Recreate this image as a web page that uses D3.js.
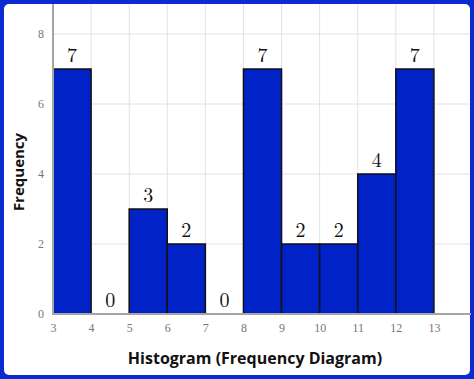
<!DOCTYPE html>
<html>
<head>
<meta charset="utf-8">
<script src="https://cdn.jsdelivr.net/npm/d3@7"></script>
<style>
  html, body { margin: 0; padding: 0; background: #fff; }
  svg { display: block; }
</style>
</head>
<body>
<div id="chart"></div>
<script>
// bins: [start, end) and the frequency of each
const binStarts = [3, 4, 5, 6, 7, 8, 9, 10, 11, 12];
const binEnds = [4, 5, 6, 7, 8, 9, 10, 11, 12, 13];
const frequencies = [7, 0, 3, 2, 0, 7, 2, 2, 4, 7];
const xTicks = [3, 4, 5, 6, 7, 8, 9, 10, 11, 12, 13];
const yTicks = [0, 2, 4, 6, 8];

const width = 474, height = 379;
const marginLeft = 53, marginBottom = 65;

const svg = d3.select("#chart").append("svg")
    .attr("width", width)
    .attr("height", height);

// blue frame
svg.append("rect")
    .attr("width", width).attr("height", height)
    .attr("fill", "#0a2bcf");
svg.append("rect")
    .attr("x", 4).attr("y", 4)
    .attr("width", width - 8).attr("height", height - 8)
    .attr("rx", 5)
    .attr("fill", "#fff");

const x = d3.scaleLinear().domain([3, 14]).range([marginLeft, 472]);
const y = d3.scaleLinear().domain([0, 9]).range([height - marginBottom, -1]);

const clip = svg.append("clipPath").attr("id", "inner")
    .append("rect")
    .attr("x", 4).attr("y", 4)
    .attr("width", width - 8).attr("height", height - 8);

const g = svg.append("g").attr("clip-path", "url(#inner)");

// grid
g.append("g")
    .selectAll("line")
    .data(d3.range(4, 14))
    .join("line")
    .attr("x1", d => x(d)).attr("x2", d => x(d))
    .attr("y1", y(9)).attr("y2", y(0))
    .attr("stroke", "#e2e2e2")
    .attr("stroke-width", 1);

g.append("g")
    .selectAll("line")
    .data(yTicks.filter(d => d > 0))
    .join("line")
    .attr("x1", x(3)).attr("x2", x(14))
    .attr("y1", d => y(d)).attr("y2", d => y(d))
    .attr("stroke", "#e2e2e2")
    .attr("stroke-width", 1);

// bars
g.append("g")
    .selectAll("rect")
    .data(frequencies.map((f, i) => ({f, a: binStarts[i], b: binEnds[i]})).filter(d => d.f > 0))
    .join("rect")
    .attr("x", d => x(d.a))
    .attr("y", d => y(d.f))
    .attr("width", d => x(d.b) - x(d.a))
    .attr("height", d => y(0) - y(d.f))
    .attr("fill", "#0022c6")
    .attr("stroke", "#111")
    .attr("stroke-width", 1.5);

// value labels
g.append("g")
    .selectAll("text")
    .data(frequencies.map((f, i) => ({f, a: binStarts[i], b: binEnds[i]})))
    .join("text")
    .attr("x", d => x((d.a + d.b) / 2))
    .attr("y", d => y(d.f) - 7)
    .attr("text-anchor", "middle")
    .attr("font-family", "'Latin Modern Roman', 'DejaVu Serif', serif")
    .attr("font-size", 20)
    .attr("fill", "#111")
    .text(d => d.f);

// axes
const xAxis = d3.axisBottom(x).tickValues(xTicks).tickSize(0).tickPadding(9);
const yAxis = d3.axisLeft(y).tickValues(yTicks).tickSize(0).tickPadding(9);

svg.append("g")
    .attr("transform", `translate(0,${y(0)})`)
    .call(xAxis)
    .call(a => a.select(".domain").remove())
    .call(a => a.selectAll("text")
        .attr("font-family", "'Liberation Serif', serif")
        .attr("font-size", 12)
        .attr("fill", "#777"));

svg.append("g")
    .attr("transform", `translate(${marginLeft},0)`)
    .call(yAxis)
    .call(a => a.select(".domain").remove())
    .call(a => a.selectAll("text")
        .attr("font-family", "'Liberation Serif', serif")
        .attr("font-size", 12)
        .attr("fill", "#777"));

svg.append("line")
    .attr("x1", x(3)).attr("x2", 471)
    .attr("y1", y(0)).attr("y2", y(0))
    .attr("stroke", "#a5a5a5").attr("stroke-width", 2);
svg.append("line")
    .attr("x1", x(3)).attr("x2", x(3))
    .attr("y1", 4).attr("y2", y(0) + 1)
    .attr("stroke", "#a5a5a5").attr("stroke-width", 2);

// axis titles
svg.append("text")
    .attr("x", 255).attr("y", 364)
    .attr("text-anchor", "middle")
    .attr("font-family", "'Open Sans', sans-serif")
    .attr("font-weight", "bold")
    .attr("font-size", 16)
    .attr("fill", "#111")
    .text("Histogram (Frequency Diagram)");

svg.append("text")
    .attr("transform", "translate(24,172) rotate(-90)")
    .attr("text-anchor", "middle")
    .attr("font-family", "'Open Sans', sans-serif")
    .attr("font-weight", "bold")
    .attr("font-size", 15)
    .attr("fill", "#111")
    .text("Frequency");
</script>
</body>
</html>
